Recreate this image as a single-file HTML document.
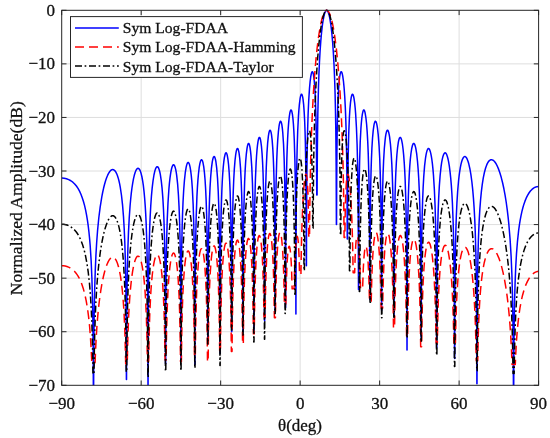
<!DOCTYPE html>
<html><head><meta charset="utf-8"><style>html,body{margin:0;padding:0;background:#fff;overflow:hidden}svg{display:block}</style></head>
<body><svg width="550" height="438" viewBox="0 0 550 438"><style>text{font-family:"Liberation Serif",serif;fill:#111;stroke:#111;stroke-width:0.3px}</style><rect x="0" y="0" width="550" height="438" fill="#fff"/><path d="M141.18 10.30V385.30M220.67 10.30V385.30M300.15 10.30V385.30M379.63 10.30V385.30M459.12 10.30V385.30M61.70 331.73H538.60M61.70 278.16H538.60M61.70 224.59H538.60M61.70 171.01H538.60M61.70 117.44H538.60M61.70 63.87H538.60" stroke="#dedede" stroke-width="1" fill="none"/><defs><clipPath id="c"><rect x="61.70" y="8.30" width="476.90" height="377.00"/></clipPath></defs><g clip-path="url(#c)" fill="none" stroke-width="1.5" stroke-linejoin="round"><polyline points="61.7,178.08 64.11,178.25 66.47,178.76 68.72,179.59 70.84,180.74 72.83,182.2 74.68,183.97 76.4,186.04 78.02,188.44 79.53,191.18 80.93,194.25 82.23,197.65 83.45,201.44 84.59,205.65 85.62,210.17 86.58,215.09 87.45,220.41 88.22,225.92 88.94,231.97 89.57,238.34 90.16,245.27 91.14,260.58 91.9,278.33 92.46,298.03 92.88,322.5 93.15,349.28 93.36,387.98 93.63,387.98 93.78,354.4 94.02,326.93 94.34,305.09 94.77,286.08 95.27,270.32 95.9,255.76 96.67,242.53 97.57,230.55 98.79,218.01 100.2,206.82 101.81,196.77 102.69,192.26 103.61,188.05 104.57,184.27 105.57,180.81 106.61,177.79 107.67,175.2 108.73,173.1 109.79,171.49 110.85,170.36 111.38,169.98 111.91,169.73 112.38,169.6 112.86,169.59 113.34,169.68 113.81,169.88 114.72,170.58 115.62,171.73 116.49,173.32 117.31,175.28 118.11,177.66 118.88,180.49 119.59,183.67 120.25,187.15 121.5,195.5 122.56,205.17 123.49,216.67 124.2,228.72 124.78,242.07 125.26,257.24 125.63,274.13 125.92,293.98 126.13,316.95 126.4,379.41 126.53,379.41 126.69,334.34 126.9,303.51 127.14,283.23 127.46,265.25 127.91,247.83 128.49,232.1 129.21,218.21 130.08,205.75 130.67,199.2 131.3,193.2 131.99,187.75 132.71,183.05 133.47,178.88 134.29,175.3 135.14,172.44 136.02,170.3 136.44,169.54 136.89,168.94 137.34,168.53 137.79,168.33 138.24,168.33 138.67,168.51 139.09,168.89 139.51,169.45 140.34,171.13 141.13,173.56 141.9,176.75 142.61,180.6 143.36,185.68 144.04,191.65 144.65,198.24 145.21,205.71 145.71,214.14 146.14,222.99 146.85,244.26 147.33,267.83 147.65,295.29 147.86,331.4 147.99,387.98 148.07,387.98 148.26,322.51 148.52,285.37 149,253.38 149.69,228.35 150.16,216.76 150.75,205.92 151.41,196.42 152.18,187.93 153.03,180.79 153.95,175 154.93,170.7 155.44,169.13 155.94,167.96 156.5,167.11 156.79,166.85 157.08,166.72 157.37,166.71 157.64,166.82 158.19,167.39 158.75,168.46 159.28,169.97 159.81,171.99 160.31,174.44 161.24,180.55 162.09,188.44 162.83,197.92 163.47,208.96 163.94,220.06 164.34,232.34 164.68,246.85 164.95,262.51 165.35,305.97 165.53,363.87 165.66,363.87 165.8,318.31 165.98,287.2 166.27,260.74 166.67,239.21 167.25,219.25 168,202.67 168.92,188.77 169.45,182.9 170.01,177.91 170.54,174.07 171.07,170.98 171.63,168.47 172.21,166.56 172.79,165.34 173.08,164.99 173.4,164.79 173.69,164.78 173.98,164.93 174.57,165.76 175.12,167.22 175.68,169.37 176.21,172.16 176.71,175.55 177.64,184.19 178.43,195.03 179.02,206.15 179.52,219.37 179.92,233.98 180.24,250.71 180.63,287.81 180.9,358.51 181,358.51 181.22,297.52 181.56,258.32 182.14,227.13 182.54,213.98 183.04,201.68 183.68,190.26 184.42,180.59 185.27,172.74 186.17,167.14 186.65,165.12 187.15,163.62 187.65,162.73 187.92,162.51 188.16,162.45 188.42,162.54 188.66,162.76 189.14,163.63 189.62,165.09 190.09,167.17 190.7,170.86 191.28,175.65 191.81,181.34 192.32,188.27 193.14,204.37 193.77,224.37 194.2,246.13 194.52,274.48 194.73,313.21 194.83,362.31 194.86,364.41 194.94,364.41 195.07,307.84 195.28,271.88 195.63,242.7 196.16,217.81 196.93,196.62 197.4,187.64 197.93,179.88 198.54,173.05 199.18,167.74 199.87,163.67 200.58,161.01 200.98,160.17 201.41,159.76 201.62,159.74 201.83,159.84 202.23,160.36 202.62,161.35 203.02,162.81 203.76,166.95 204.45,172.75 205.09,180.29 205.64,189.29 206.12,199.65 206.52,211.21 206.84,223.63 207.31,253.4 207.6,291.48 207.76,342.44 207.9,342.44 208.11,282.62 208.51,241.07 208.77,225.72 209.12,211.42 209.54,198.6 210.02,187.88 210.68,177 211.42,168.43 212.27,161.9 212.72,159.56 213.17,157.91 213.62,156.91 213.86,156.64 214.1,156.54 214.33,156.62 214.57,156.87 215.02,157.84 215.47,159.5 215.9,161.72 216.72,168.19 217.54,178.4 218.23,191.44 218.79,207.27 219.21,225.63 219.53,247.4 219.74,271.45 219.9,304.78 220,353.16 220.08,353.16 220.22,300.13 220.4,265.3 220.72,235.42 221.2,210.69 221.86,190.28 222.28,181.27 222.73,173.78 223.26,166.96 223.82,161.57 224.4,157.48 225.04,154.55 225.41,153.52 225.78,152.96 225.97,152.85 226.15,152.86 226.52,153.23 226.89,154.07 227.26,155.42 227.95,159.39 228.59,165.04 229.17,172.39 229.67,181.04 230.13,191.47 230.76,213.97 231.21,243.02 231.48,277.32 231.66,331.73 231.77,331.73 231.79,330.08 231.98,273.04 232.35,232.1 232.91,203.11 233.28,190.92 233.73,179.88 234.31,169.4 235,160.63 235.74,154.27 236.14,151.91 236.54,150.19 236.96,149.03 237.17,148.69 237.38,148.52 237.6,148.51 237.81,148.66 238.21,149.4 238.63,150.86 239.03,152.91 239.77,158.74 240.54,168.34 241.17,180.42 241.7,195.4 242.13,213.6 242.39,230.81 242.6,251.87 242.79,284.69 242.92,331.73 243.03,331.73 243.19,275.61 243.48,236.05 243.96,205.48 244.64,181.63 245.15,170.38 245.7,161.28 246.34,153.79 247.06,148.11 247.43,146.1 247.8,144.67 248.17,143.79 248.35,143.55 248.57,143.43 248.78,143.49 248.96,143.68 249.33,144.48 249.7,145.84 250.08,147.81 250.55,151.33 251,155.86 251.8,167.63 252.46,183.28 252.96,202.19 253.31,222.94 253.55,246.57 253.73,280.83 253.84,326.54 253.86,331.73 253.94,331.73 254.08,279.02 254.24,248.93 254.5,221.76 254.87,199.49 255.43,178.98 256.12,162.96 256.54,155.95 256.99,150.13 257.47,145.39 258,141.56 258.34,139.77 258.71,138.41 259.06,137.66 259.24,137.46 259.43,137.39 259.61,137.46 259.8,137.67 260.14,138.43 260.49,139.71 260.83,141.53 261.47,146.51 262.05,153.35 262.58,162.15 263.03,172.47 263.67,195.15 264.09,222.68 264.38,262.04 264.54,321.01 264.65,321.01 264.89,248.53 265.1,222.76 265.39,201.41 265.79,182.71 266.29,166.91 266.93,153.38 267.67,142.82 268.38,136.16 268.75,133.77 269.15,131.91 269.55,130.74 269.95,130.22 270.16,130.22 270.34,130.36 270.71,131.1 271.09,132.44 271.46,134.44 272.15,140.15 272.78,148.34 273.31,158.27 273.71,168.56 274.05,180.66 274.56,209.29 274.9,252.53 275.06,310.3 275.17,310.3 275.35,250.36 275.62,214.54 276.07,184.47 276.73,160.35 277.21,149.09 277.74,139.87 278.35,132.19 279.01,126.47 279.35,124.38 279.72,122.75 280.07,121.76 280.44,121.27 280.62,121.24 280.81,121.35 281.18,122.03 281.52,123.21 281.87,124.97 282.35,128.44 282.77,132.72 283.54,144.3 284.17,159.78 284.65,178.34 284.97,198.02 285.21,222.28 285.39,258.55 285.5,307.62 285.58,307.62 285.74,249.13 285.95,213.98 286.32,183.4 286.85,159.28 287.22,147.99 287.64,138.16 288.12,129.71 288.68,122.33 289.26,116.76 289.9,112.71 290.21,111.39 290.56,110.45 290.9,110.02 291.06,109.99 291.22,110.07 291.51,110.5 291.8,111.32 292.39,114.17 292.92,118.4 293.42,124.21 293.87,131.36 294.27,139.8 294.9,160.39 295.3,182.59 295.59,211.95 295.75,243.29 295.88,314.05 295.94,314.05 296.15,225.98 296.36,195.77 296.68,170.52 297.13,148.91 297.71,131.03 298.45,116.13 298.88,109.99 299.36,104.58 300.04,98.98 300.41,96.91 300.79,95.44 301.16,94.55 301.34,94.31 301.53,94.22 301.71,94.28 301.9,94.48 302.27,95.33 302.64,96.83 302.98,98.85 303.62,104.43 304.18,111.86 304.68,121.54 305.05,131.45 305.37,142.98 305.85,170.99 306.16,211.59 306.32,265.84 306.43,265.84 306.69,195.19 306.91,170.52 307.2,149.49 307.59,130.66 308.1,114.4 308.73,100.13 309.48,88.58 310.11,81.58 310.77,76.48 311.46,73.18 311.83,72.2 312.18,71.77 312.36,71.74 312.52,71.83 312.87,72.4 313.21,73.5 313.53,75.04 314.14,79.63 314.67,85.83 315.07,92.37 315.41,99.9 315.99,119.37 316.47,150.27 316.76,195.12 317.08,195.12 317.37,148.68 317.82,114.46 318.51,85.92 318.96,73.25 319.46,62.03 320.1,50.78 320.79,41.12 321.58,32.3 322.43,25 323.36,18.98 324.31,14.58 324.82,12.91 325.32,11.66 325.82,10.82 326.35,10.37 326.64,10.3 326.94,10.37 327.49,10.85 328.08,11.88 328.63,13.37 329.19,15.38 329.74,17.93 330.78,24.26 331.76,32.53 332.63,42.27 333.4,53.36 334.09,66.22 334.62,79 335.07,93.08 335.44,108.43 335.76,126.62 336.16,166.07 336.39,224.59 336.55,224.59 336.69,185.37 336.9,154.48 337.14,134.94 337.43,119.43 337.85,104.52 338.38,92.36 339.02,82.94 339.39,79.14 339.76,76.27 340.1,74.31 340.45,72.94 340.82,72.06 341,71.83 341.19,71.74 341.38,71.78 341.56,71.95 341.96,72.75 342.33,74.03 342.7,75.82 343.44,81.05 344.13,88.17 344.74,96.76 345.3,107.2 345.72,117.58 346.09,129.31 346.67,157.34 347.05,191.47 347.28,239.05 347.52,239.05 347.76,190.91 348.18,156.2 348.71,134.01 349.43,116.72 349.93,108.83 350.52,102.41 351.15,97.82 351.5,96.17 351.84,95.05 352.19,94.41 352.37,94.25 352.56,94.23 352.93,94.56 353.3,95.39 353.67,96.73 354.01,98.45 354.7,103.34 355.18,108.01 355.63,113.6 356.42,127.17 357.09,144.23 357.59,164.13 357.93,185.45 358.2,212.87 358.49,289.41 358.6,289.41 358.73,238.35 358.94,204.62 359.23,180.14 359.63,160.19 360.21,142.15 360.95,128.01 361.38,122.46 361.86,117.75 362.36,114.16 362.92,111.57 363.29,110.55 363.66,110.05 363.84,109.99 364.03,110.05 364.43,110.6 364.82,111.7 365.19,113.26 365.91,117.77 366.6,124.29 367.21,132.33 367.74,141.68 368.21,152.87 368.88,176.22 369.35,206.49 369.64,244.67 369.83,299.59 369.94,299.59 370.12,242.16 370.49,199.96 370.76,183.84 371.08,170.21 371.45,158.65 371.9,148.3 372.51,138.3 373.2,130.58 373.96,125.08 374.39,123.15 374.81,121.91 375.24,121.31 375.45,121.23 375.69,121.33 376.14,122.02 376.59,123.39 377.01,125.32 377.43,127.92 378.23,134.83 379.05,145.57 379.74,158.83 380.3,174.4 380.75,193.16 381.06,213.52 381.3,238.26 381.59,310.3 381.7,310.3 381.83,266.24 382.02,234.59 382.26,211.96 382.57,193.03 383.05,174.75 383.63,160.15 384.35,148.23 385.2,139.11 385.59,136.14 386.02,133.71 386.47,131.87 386.92,130.72 387.13,130.41 387.37,130.22 387.61,130.21 387.85,130.37 388.3,131.14 388.75,132.54 389.2,134.58 389.62,137.14 390.44,144.12 391.18,153.31 391.82,164.34 392.3,175.55 392.72,189 393.07,204.13 393.33,220.6 393.68,258.1 393.89,315.66 394.02,315.66 394.23,258.71 394.58,221.54 395.08,194.7 395.42,182.93 395.82,172.69 396.35,162.49 396.93,154.26 397.62,147.27 398.36,142.16 398.76,140.25 399.16,138.86 399.58,137.89 400.01,137.43 400.22,137.39 400.43,137.47 400.88,138.03 401.31,139.06 401.73,140.59 402.42,144.23 403.05,149 403.66,155.1 404.22,162.35 404.72,170.75 405.15,179.74 405.86,201.65 406.34,226.31 406.66,255.76 406.87,297.02 406.98,349.94 407.06,349.94 407.19,291.32 407.43,250.57 407.8,220.84 408.35,196.55 408.75,185.16 409.2,175.39 409.73,166.66 410.31,159.4 410.95,153.5 411.67,148.77 412.43,145.48 412.83,144.41 413.23,143.74 413.68,143.43 413.89,143.45 414.13,143.6 414.58,144.24 415.03,145.35 415.48,146.95 415.9,148.93 416.73,154.21 417.49,161.21 418.18,169.71 418.79,179.71 419.3,190.61 419.69,201.87 420.04,214.72 420.54,244.26 420.86,282.62 421.04,337.09 421.18,337.09 421.42,273.07 421.6,251.26 421.87,231.49 422.21,214.45 422.63,199.91 423.14,187.52 423.75,176.59 424.59,165.87 425.55,157.76 426.08,154.56 426.61,152.12 427.19,150.21 427.77,149.02 428.07,148.69 428.38,148.51 428.67,148.52 428.99,148.71 429.6,149.62 430.18,151.15 430.77,153.37 431.35,156.33 431.88,159.73 432.41,163.92 432.97,169.3 433.47,175.25 434.34,188.97 435.06,205.42 435.62,224.69 436.01,246.23 436.3,272.58 436.49,303.4 436.62,347.8 436.76,347.8 436.99,283.46 437.18,261.5 437.44,241.63 437.76,225.6 438.19,210.61 438.72,197.26 439.33,186.09 440.15,175.21 441.1,166.37 441.63,162.7 442.19,159.61 442.77,157.07 443.38,155.11 444.01,153.74 444.65,153 444.97,152.85 445.31,152.86 445.63,153.03 445.98,153.36 446.64,154.49 447.27,156.18 447.91,158.49 448.52,161.34 449.29,165.92 450.03,171.57 450.72,178.16 451.33,185.4 451.88,193.57 452.39,202.76 453.18,223.06 453.74,245.95 454.14,274.2 454.37,306.47 454.56,358.51 454.67,358.51 454.69,358.09 454.8,318.56 454.98,286.35 455.46,248.17 455.86,230.61 456.33,216 456.94,202.65 457.66,191.24 458.61,180.27 459.17,175.37 459.75,171.1 460.36,167.42 461.02,164.17 461.71,161.51 462.45,159.35 463.22,157.8 463.99,156.88 464.39,156.63 464.79,156.54 465.18,156.6 465.58,156.81 466.01,157.19 466.4,157.69 467.2,159.15 467.99,161.21 468.76,163.8 469.87,168.71 470.91,174.71 471.86,181.77 472.71,189.66 473.48,198.6 474.14,208.28 474.72,219.06 475.23,231.03 475.94,256.24 476.42,286.49 476.71,324.4 476.89,383.69 477,383.69 477.19,322.35 477.5,283.74 478.01,254.32 478.35,241.55 478.75,230.33 479.25,219.36 479.86,209.1 480.58,199.75 481.37,191.6 482.27,184.32 483.28,177.95 484.39,172.49 485.61,167.96 486.8,164.69 487.44,163.33 488.08,162.22 488.74,161.3 489.4,160.61 490.09,160.11 490.8,159.81 491.52,159.73 492.26,159.87 493,160.21 493.74,160.77 494.49,161.52 495.26,162.5 496.02,163.7 496.77,165.04 498.28,168.38 499.76,172.47 501.22,177.33 502.59,182.77 503.89,188.78 505.11,195.35 506.25,202.5 507.28,210.07 508.08,216.79 508.82,223.99 510.09,239.33 511.13,256.48 511.92,275.34 512.53,297.15 512.95,321.55 513.24,350.87 513.43,387.98 513.72,387.98 513.91,352.94 514.17,325.53 514.54,303.24 515.07,283.36 515.71,267.52 516.5,253.62 517.46,241.56 518.62,230.7 519.34,225.4 520.13,220.37 520.98,215.79 521.88,211.62 522.86,207.73 523.92,204.15 525.06,200.88 526.28,197.93 527.58,195.3 528.96,193 530.41,191.03 531.95,189.39 533.54,188.12 535.21,187.18 536.9,186.63 538.6,186.44" stroke="#0000ff"/><polyline points="61.7,265.72 63.45,265.81 65.2,266.08 66.89,266.52 68.54,267.15 70.1,267.93 71.61,268.9 73.04,270.02 74.39,271.3 75.69,272.77 76.91,274.38 78.07,276.18 79.19,278.16 80.22,280.28 81.23,282.63 82.18,285.17 83.08,287.9 84.72,293.88 86.21,300.79 87.51,308.49 88.64,317.14 89.63,326.71 90.45,337.09 91.14,348.47 91.8,362.8 95.08,362.8 95.59,349.86 96.2,337.74 96.91,326.53 97.73,316.23 98.66,306.76 99.72,297.88 100.89,289.81 102.18,282.38 103.3,277.04 104.46,272.28 105.68,268.1 106.95,264.52 108.25,261.63 109.55,259.46 110.21,258.64 110.85,258.02 111.51,257.57 112.15,257.32 112.86,257.26 113.55,257.43 114.24,257.84 114.9,258.46 115.56,259.34 116.2,260.43 116.81,261.72 117.42,263.27 118.56,266.96 119.62,271.52 120.6,276.93 121.5,283.24 122.29,290.22 122.98,297.74 123.59,306.01 124.15,315.48 124.62,325.8 125.02,336.83 125.68,363.87 127.25,363.87 127.86,337.23 128.68,315.76 129.21,305.92 129.79,297.22 130.45,289.19 131.17,282.11 131.86,276.49 132.6,271.46 133.37,267.18 134.19,263.5 135.04,260.55 135.91,258.32 136.36,257.48 136.81,256.85 137.26,256.41 137.71,256.18 138.19,256.15 138.67,256.35 139.14,256.8 139.62,257.48 140.1,258.43 140.55,259.57 141.42,262.55 142.24,266.39 143.01,271.09 143.73,276.66 144.36,282.87 144.95,289.94 145.45,297.48 146.3,314.98 146.93,335.65 147.41,361.19 148.65,361.19 149.13,334.93 149.79,313.19 150.67,295.01 151.17,287.37 151.75,280.17 152.31,274.53 152.89,269.65 153.5,265.47 154.17,261.83 154.85,258.91 155.57,256.72 156.29,255.33 156.63,254.93 157,254.71 157.4,254.69 157.8,254.92 158.19,255.38 158.56,256.05 159.33,258.16 160.05,261.12 160.74,265 161.37,269.68 161.95,275.11 162.51,281.6 163.41,296.04 164.13,313.54 164.66,333.82 165.08,360.12 166.11,360.12 166.54,333.24 167.09,311.86 167.84,293.75 168.29,285.76 168.79,278.53 169.77,268.05 170.3,263.84 170.88,260.15 171.49,257.19 172.1,255.06 172.71,253.69 173.03,253.27 173.35,253.05 173.72,253.04 174.06,253.27 174.41,253.74 174.75,254.46 175.44,256.67 176.08,259.73 176.69,263.72 177.27,268.71 177.8,274.49 178.28,281 179.07,295.91 179.68,313.33 180.13,333.33 180.53,361.73 181.38,361.73 181.75,333.69 182.22,312.17 182.89,293.33 183.71,278.11 184.61,266.94 185.08,262.57 185.61,258.68 186.17,255.55 186.73,253.27 187.31,251.73 187.6,251.27 187.92,250.99 188.24,250.95 188.56,251.16 188.87,251.61 189.19,252.31 189.8,254.39 190.41,257.54 190.97,261.5 191.47,266.14 191.95,271.69 192.4,278.26 193.11,292.52 193.7,310.17 194.12,330.19 194.46,356.91 195.31,356.9 195.63,331.05 196.11,308.27 196.72,290.07 197.51,274.62 198.33,263.98 198.78,259.66 199.26,256.02 199.76,253.05 200.29,250.8 200.82,249.38 201.09,248.96 201.35,248.74 201.67,248.73 201.96,248.96 202.28,249.49 202.57,250.23 203.15,252.49 203.71,255.72 204.24,259.92 204.72,264.84 205.59,277.68 206.25,292.67 206.78,311.09 207.18,333.21 207.5,361.73 208.13,361.73 208.16,361.44 208.45,332.91 208.85,310.49 209.41,290.97 210.12,274.84 210.92,262.99 211.34,258.35 211.82,254.19 212.32,250.84 212.82,248.41 213.35,246.77 213.62,246.29 213.88,246.02 214.18,245.97 214.44,246.16 214.73,246.62 215,247.27 215.53,249.29 216.06,252.35 216.56,256.35 217.01,261.03 217.83,273.12 218.47,287.42 218.97,304.51 219.34,323.88 219.69,352.09 220.4,352.09 220.72,324.54 221.12,303.39 221.67,284.67 222.36,269.59 223.1,258.72 223.95,250.53 224.4,247.56 224.88,245.28 225.36,243.84 225.59,243.41 225.83,243.18 226.12,243.15 226.39,243.38 226.65,243.85 226.92,244.57 227.42,246.66 227.93,249.79 228.4,253.85 228.85,258.88 229.62,271.05 230.23,285.8 230.71,303.36 231.05,323.02 231.37,351.55 232.01,351.55 232.03,351.29 232.3,324.71 232.7,301.54 233.2,283.21 233.86,267.49 234.58,256.19 235.37,247.91 235.82,244.72 236.27,242.4 236.72,240.89 236.96,240.4 237.2,240.12 237.46,240.05 237.73,240.23 237.99,240.67 238.23,241.29 238.74,243.34 239.21,246.28 239.66,250.08 240.09,254.73 240.86,266.68 241.46,281.2 241.94,298.4 242.31,319.34 242.58,344.05 243.29,344.05 243.32,343.94 243.58,319 243.98,296.75 244.49,279.01 245.15,263.79 245.81,253.59 246.58,245.73 246.98,242.92 247.4,240.72 247.82,239.28 248.04,238.83 248.27,238.53 248.51,238.45 248.75,238.6 248.99,238.96 249.23,239.56 249.68,241.32 250.13,243.99 250.55,247.44 250.98,251.96 251.69,262.71 252.27,275.84 252.75,291.79 253.12,310.63 253.41,333.87 254.26,333.87 254.58,308.89 254.98,289.27 255.51,272.25 256.17,258.21 256.81,249.05 257.52,242.09 257.89,239.57 258.29,237.58 258.69,236.28 259.11,235.6 259.35,235.54 259.56,235.68 259.98,236.51 260.41,238.1 260.81,240.35 261.57,247.09 262.24,256.18 262.79,267.32 263.27,281.03 263.64,296.46 263.99,317.26 265.1,317.26 265.5,293.13 266,274.18 266.66,258.3 267.48,245.9 267.88,241.78 268.28,238.6 268.7,236.11 269.15,234.4 269.36,233.91 269.6,233.58 269.84,233.51 270.05,233.64 270.5,234.58 270.93,236.31 271.56,240.59 272.15,246.64 272.68,254.45 273.13,263.5 273.52,274.24 273.87,286.87 274.4,317.8 275.43,317.8 275.7,299.16 276.01,283.78 276.41,270.22 276.86,259.13 277.42,249.3 278.05,241.54 278.74,236.15 279.09,234.41 279.46,233.19 279.86,232.6 280.07,232.57 280.28,232.75 280.68,233.63 281.07,235.26 281.47,237.7 281.84,240.77 282.53,248.92 283.14,259.69 283.64,272.5 284.07,288.02 284.39,304.94 285.82,304.94 286.37,281.06 287.06,263.84 287.49,257.06 287.94,251.96 288.44,248.32 288.68,247.26 288.94,246.55 289.21,246.32 289.45,246.53 289.68,247.13 289.92,248.13 290.4,251.49 290.82,256.2 291.22,262.47 291.57,269.86 292.15,288.87 294.03,288.87 294.06,288.63 294.59,268.26 295.28,252.21 295.67,246.06 296.1,241.32 296.55,238.06 296.79,237.02 297,236.49 297.21,236.34 297.39,236.52 297.79,237.99 298.16,240.86 298.51,245.13 299.06,256.69 299.54,274.41 300.94,274.41 301.26,254.14 301.63,237.19 302.11,221.16 302.67,207.23 303.33,194.9 304.04,185.26 304.79,178.52 305.18,176.17 305.55,174.78 305.85,174.26 305.98,174.2 306.11,174.25 306.38,174.74 306.61,175.65 307.09,179.05 307.52,184.42 307.94,193.12 308.28,204.28 308.55,217.48 308.81,237.44 309.53,237.44 309.79,209.43 310.11,186.84 310.54,165.64 311.09,145.17 311.78,125.82 312.58,108.17 313.53,91.07 314.59,75.57 315.81,60.95 317.16,47.76 318.59,36.54 320.1,27.21 320.9,23.22 321.69,19.81 322.48,16.95 323.31,14.56 324.13,12.71 324.98,11.36 325.82,10.55 326.25,10.36 326.67,10.3 327.09,10.38 327.52,10.59 328.37,11.42 329.21,12.8 330.06,14.73 330.88,17.15 331.7,20.11 332.53,23.65 333.32,27.65 334.86,37.11 336.31,48.45 337.69,61.73 338.94,76.43 340.02,92.04 340.98,108.76 341.83,127.17 342.51,146.12 343.07,166.02 343.52,187.93 343.84,209.94 344.1,237.44 344.87,237.41 345.11,218.69 345.4,204.49 345.77,192.98 346.22,184.23 346.65,179.12 347.15,175.67 347.42,174.71 347.68,174.26 347.81,174.2 347.97,174.27 348.26,174.77 348.66,176.19 349.06,178.4 349.85,185.2 350.6,194.6 351.28,206.57 351.87,220.1 352.37,235.64 352.77,252.2 353.14,272.8 354.68,272.8 355.18,256 355.79,244.57 356.16,240.48 356.56,237.77 356.77,236.93 356.98,236.46 357.19,236.34 357.4,236.55 357.64,237.17 357.88,238.2 358.36,241.49 358.81,246.22 359.23,252.35 359.97,268.41 360.56,288.87 362.6,288.87 363.29,269.08 363.66,261.98 364.08,255.97 364.56,251.23 365.06,248.07 365.33,247.08 365.59,246.5 365.86,246.32 366.15,246.59 366.41,247.25 366.68,248.32 367.21,251.75 367.71,256.82 368.16,263.22 368.9,279.37 369.51,301.73 371.21,301.73 371.61,284.86 372.03,271.6 372.53,260.19 373.14,250.24 373.83,242.38 374.6,236.68 375,234.75 375.42,233.38 375.82,232.7 376.03,232.56 376.24,232.59 376.67,233.12 377.09,234.3 377.51,236.15 377.91,238.55 378.65,245 379.34,253.89 379.92,264.56 380.4,276.65 380.83,291.72 381.14,307.98 381.17,308.16 382.63,308.16 383,290.31 383.45,275.21 384,262.27 384.64,251.93 385.41,243.39 385.83,240.03 386.26,237.45 386.71,235.46 387.18,234.13 387.42,233.74 387.66,233.54 387.9,233.51 388.14,233.67 388.59,234.45 389.01,235.77 389.44,237.7 389.83,240.1 390.6,246.6 391.32,255.43 392.06,268.78 392.67,285.2 393.15,304.96 393.49,327.92 393.52,327.98 394.55,327.98 394.92,304.73 395.37,286.38 395.95,270.73 396.64,258.25 397.52,247.74 397.99,243.71 398.5,240.45 399.03,237.99 399.58,236.35 399.85,235.88 400.14,235.6 400.4,235.53 400.7,235.68 401.2,236.48 401.7,237.98 402.18,240.08 402.66,242.89 403.53,250.22 404.33,260.03 405.12,274.44 405.76,291.88 406.23,312.13 406.6,337.09 407.58,337.09 407.98,311.44 408.43,292.94 409.04,276.56 409.78,263.28 410.23,257.37 410.71,252.35 411.24,247.98 411.8,244.49 412.38,241.86 412.99,240.12 413.28,239.62 413.6,239.3 413.92,239.23 414.24,239.39 414.79,240.24 415.35,241.82 415.9,244.19 416.43,247.22 416.94,250.91 417.41,255.24 418.29,265.85 419.14,281.09 419.8,299.26 420.28,319.58 420.67,346.73 421.6,346.73 422,320.12 422.47,300.17 423.11,283.06 423.93,268.55 424.44,262.11 424.97,256.71 425.55,252.04 426.16,248.31 426.82,245.38 427.51,243.39 427.85,242.78 428.2,242.4 428.54,242.25 428.91,242.34 429.23,242.63 429.52,243.06 430.11,244.41 430.69,246.44 431.27,249.19 431.83,252.57 432.36,256.57 433.31,266.13 433.81,272.8 434.29,280.55 435.06,297.56 435.64,317.33 436.12,342.98 437.34,342.98 437.82,318.1 438.37,299.49 439.11,283.27 440.04,269.79 440.6,263.86 441.21,258.67 441.84,254.41 442.53,250.88 443.25,248.22 444.01,246.36 444.39,245.8 444.78,245.43 445.18,245.29 445.58,245.39 445.92,245.65 446.27,246.09 446.96,247.47 447.62,249.48 448.28,252.19 448.92,255.52 449.5,259.27 450.61,268.77 451.22,275.65 451.75,282.98 452.68,300.45 453.37,320.49 453.9,345.12 455.38,345.12 455.88,321.68 456.6,301.38 457.53,284.62 458.06,277.63 458.67,271.1 459.36,265.16 460.1,260.08 460.89,255.82 461.74,252.39 462.64,249.79 463.09,248.85 463.57,248.09 464.04,247.57 464.55,247.26 465.02,247.2 465.53,247.36 466.01,247.73 466.48,248.31 467.41,250.04 468.34,252.61 469.24,255.95 470.09,259.95 470.91,264.74 471.68,270.2 472.36,276.08 473.08,283.45 473.74,291.81 474.32,300.89 474.83,310.61 475.28,321.55 475.65,333.06 476.26,360.66 477.72,360.66 478.35,332.36 478.78,320.2 479.28,309.17 479.86,299.24 480.55,290.05 481.32,281.95 482.19,274.64 483.2,268.03 484.29,262.47 485.48,257.8 486.11,255.81 486.78,254.05 487.47,252.53 488.15,251.29 488.87,250.28 489.61,249.51 490.38,248.98 491.2,248.7 492,248.67 492.79,248.89 493.53,249.31 494.27,249.93 495.02,250.75 495.78,251.8 497.3,254.47 498.78,257.87 500.24,262.02 501.67,266.92 503.02,272.4 504.29,278.45 505.72,286.52 507.02,295.35 508.18,304.94 509.19,315.05 510.07,325.85 510.83,337.75 511.47,350.32 512.03,364.41 515.28,364.41 515.87,351.68 516.45,341.59 517.17,331.88 517.99,323.08 518.91,315.17 519.97,307.9 521.17,301.33 522.49,295.44 524,290.05 525.64,285.39 526.52,283.31 527.45,281.36 528.4,279.6 529.41,277.97 530.44,276.53 531.53,275.24 532.64,274.12 533.8,273.17 534.97,272.42 536.16,271.84 537.38,271.45 538.6,271.25" stroke="#ff0000" stroke-dasharray="9 5"/><polyline points="61.7,224.19 63.79,224.31 65.86,224.7 67.85,225.33 69.73,226.19 71.5,227.29 73.2,228.62 74.79,230.19 76.3,232 77.7,234.04 79.03,236.32 80.27,238.84 81.46,241.68 82.58,244.77 83.61,248.11 84.59,251.78 85.49,255.67 86.98,263.53 88.27,272.48 89.39,282.52 90.34,293.93 91.27,309.36 92.01,327.71 92.54,348.04 92.96,374.05 94,374.05 94.34,350.96 94.77,332.03 95.29,315.62 95.98,300.24 96.83,286.24 97.86,273.31 99.06,261.75 100.43,251.26 101.28,245.89 102.16,241.02 103.11,236.36 104.09,232.2 105.1,228.49 106.16,225.15 107.24,222.28 108.33,219.94 109.44,218.08 110.53,216.77 111.09,216.29 111.62,215.97 112.17,215.77 112.7,215.7 113.23,215.77 113.76,215.98 114.26,216.3 114.77,216.76 115.78,218.11 116.73,219.97 117.84,222.94 118.88,226.63 119.86,231.14 120.76,236.36 121.58,242.28 122.32,248.88 122.98,256.14 123.59,264.4 124.47,280.45 125.13,298.67 125.5,313.56 125.79,330.13 126.19,371.45 126.21,371.91 126.72,371.91 127.14,329.28 127.43,312.59 127.78,298.41 128.23,284.7 128.76,272.56 129.39,261.37 130.14,251.24 131.04,241.71 132.07,233.34 133.21,226.38 133.82,223.43 134.43,220.96 135.06,218.84 135.73,217.09 136.39,215.8 137.05,214.95 137.71,214.53 138.06,214.48 138.37,214.55 139.04,215.01 139.67,215.91 140.15,216.88 140.63,218.12 141.55,221.41 142.43,225.72 143.22,230.89 143.97,237.11 144.63,244.15 145.21,251.95 145.74,260.89 146.48,278.22 147.07,299.59 147.57,333.22 147.86,377.26 148.2,377.26 148.44,339.65 148.81,309.4 149.34,285.26 150.09,264.64 150.56,255.23 151.09,246.85 151.68,239.42 152.34,232.63 153.05,226.8 153.82,221.93 154.64,218.02 155.49,215.21 156.02,214.03 156.55,213.28 157.11,212.95 157.37,212.95 157.64,213.06 158.17,213.6 158.7,214.59 159.2,215.96 159.7,217.8 160.63,222.55 161.48,228.79 162.25,236.52 162.94,245.83 163.49,255.81 163.97,267.09 164.37,279.64 164.68,293.22 165.13,324.41 165.45,371.37 165.74,371.37 165.77,370.88 166.09,321.87 166.35,301.73 166.7,284.29 167.07,270.91 167.49,259.41 168,248.93 168.58,239.57 169.35,230.27 170.22,222.57 171.18,216.76 171.68,214.58 172.18,212.95 172.69,211.84 173.22,211.21 173.48,211.1 173.75,211.13 174.01,211.3 174.27,211.61 174.78,212.59 175.28,214.12 175.76,216.11 176.24,218.69 176.77,222.34 177.27,226.7 178.17,237.38 178.91,250.3 179.52,265.85 180,284.16 180.37,306.73 180.63,334.71 180.82,370.84 181.08,370.84 181.35,324.34 181.75,292.09 182.38,265.05 182.81,253.35 183.28,243.3 183.89,233.52 184.58,225.26 185.32,218.73 186.14,213.68 186.57,211.83 187.02,210.37 187.47,209.41 187.92,208.94 188.16,208.88 188.37,208.95 188.79,209.4 189.24,210.36 189.67,211.75 190.28,214.64 190.83,218.32 191.36,222.92 191.84,228.18 192.69,241.17 193.38,257.35 193.83,273.18 194.2,292.81 194.54,324.75 194.76,368.16 195.02,368.16 195.15,337 195.36,309.58 195.66,287.42 196.03,269.27 196.53,252.68 197.17,238.34 197.93,226.4 198.81,217.18 199.58,211.76 199.97,209.75 200.4,208.14 200.82,207.05 201.25,206.46 201.46,206.35 201.67,206.36 202.09,206.76 202.52,207.67 202.92,209.01 203.68,213.08 204.4,218.92 205.06,226.65 205.56,234.58 205.99,243.24 206.7,264.89 207.02,279.96 207.29,298.25 207.63,344.05 208,344.05 208.27,307.51 208.61,280.67 209.12,257.93 209.8,238.87 210.23,230.61 210.7,223.29 211.23,216.97 211.82,211.7 212.43,207.72 213.06,204.99 213.38,204.13 213.73,203.55 214.07,203.33 214.39,203.46 214.71,203.9 215.02,204.67 215.63,207.1 216.22,210.73 216.77,215.62 217.28,221.52 217.73,228.36 218.49,245.19 219.02,263.72 219.42,286.16 219.74,319.07 219.95,365.48 220.14,365.48 220.32,323.36 220.53,296.95 220.88,272.27 221.33,252.52 221.96,234.68 222.73,220.71 223.18,214.83 223.66,209.94 224.19,205.82 224.72,202.87 225.04,201.61 225.36,200.71 225.67,200.16 226.02,199.94 226.34,200.1 226.65,200.61 226.97,201.48 227.29,202.72 227.9,206.23 228.46,210.94 228.99,217.09 229.46,224.44 230.15,239.67 230.68,258.02 231.18,288.74 231.5,330.12 231.9,330.12 232.19,291.85 232.62,262.76 233.23,239.48 233.6,229.9 234.05,220.91 234.58,212.87 235.19,206.07 235.82,201.09 236.51,197.69 236.85,196.68 237.2,196.11 237.38,195.98 237.57,195.98 237.91,196.31 238.26,197.08 238.6,198.31 239.27,202.09 240.01,208.96 240.64,217.81 241.2,228.91 241.68,242.49 242.1,260.39 242.42,281.46 242.63,304.37 242.79,334.91 243.11,334.94 243.37,293.6 243.72,265.44 244.25,241.19 244.96,221.79 245.41,213.43 245.94,205.97 246.53,199.96 247.13,195.59 247.77,192.8 248.09,192.01 248.43,191.6 248.62,191.57 248.78,191.65 249.1,192.11 249.41,192.97 249.73,194.25 250.18,196.85 250.61,200.24 251.4,209.64 252.06,221.86 252.62,237.44 253.07,257.16 253.39,279.91 253.6,305.88 253.76,341.91 254,341.91 254.18,302.07 254.47,270.69 254.9,245.85 255.45,226.23 256.25,208.9 256.7,202.17 257.2,196.43 257.73,191.99 258.32,188.69 258.61,187.61 258.9,186.87 259.19,186.49 259.35,186.42 259.51,186.45 259.8,186.78 260.06,187.38 260.59,189.5 261.1,192.76 261.57,197.14 262.02,202.7 262.42,209.07 263.11,224.95 263.59,242.28 263.96,263.69 264.25,293.38 264.46,339.23 264.67,339.23 264.86,298.14 265.1,270.07 265.44,246.79 265.92,226.94 266.58,209.53 267.4,195.98 267.85,190.87 268.36,186.62 268.89,183.53 269.42,181.73 269.71,181.24 270,181.12 270.29,181.35 270.56,181.87 271.09,183.87 271.62,187.24 272.12,191.93 272.57,197.66 273.34,212.19 273.92,230.13 274.34,251.4 274.66,279.2 274.87,313.51 275.22,313.51 275.4,281.32 275.7,253.82 276.09,231.94 276.62,213.64 277.26,199.31 278,188.35 278.42,183.95 278.87,180.45 279.33,178 279.8,176.45 280.07,176.03 280.36,175.92 280.65,176.2 280.92,176.78 281.44,178.97 281.95,182.41 282.43,187.14 282.88,193.23 283.62,208.26 284.17,226.78 284.57,248.58 284.86,276.68 285.07,313.51 285.34,313.51 285.37,312.14 285.53,279.85 285.79,251.63 286.16,228.87 286.64,210.51 287.25,195.18 287.96,183.36 288.39,178.42 288.81,174.66 289.26,171.78 289.71,169.94 289.98,169.32 290.24,169.03 290.51,169.07 290.74,169.39 291.25,171.01 291.75,174.02 292.2,178.07 292.63,183.33 293.37,197.28 293.9,213.51 294.32,234.58 294.61,259.36 294.85,294.23 295.2,294.23 295.38,262.61 295.65,237.2 296.02,215.73 296.49,198 297.05,184.07 297.74,172.44 298.51,164.17 298.9,161.37 299.33,159.36 299.57,158.66 299.81,158.25 300.04,158.14 300.26,158.3 300.49,158.78 300.71,159.48 301.16,161.91 301.58,165.52 301.95,169.97 302.61,182.08 303.12,197.2 303.51,216.65 303.78,238.23 304.02,270.66 304.39,270.66 304.63,235.66 304.89,212.54 305.26,191.94 305.77,173.47 306.35,158.84 307.01,147.23 307.78,138.19 308.18,134.98 308.58,132.69 309,131.2 309.21,130.85 309.4,130.75 309.61,130.89 309.79,131.26 310.16,132.71 310.51,135.05 310.83,138.24 311.41,147.6 311.89,160.78 312.26,178.07 312.52,199.21 312.73,228.34 313.11,228.34 313.5,176.3 313.79,155.22 314.17,136.27 314.64,118.28 315.23,101.53 315.91,86.04 316.71,71.78 317.66,58.05 318.72,45.87 319.89,35.23 321.13,26.4 321.8,22.6 322.46,19.37 323.15,16.57 323.84,14.31 324.52,12.57 325.24,11.29 325.96,10.54 326.3,10.36 326.67,10.3 327.04,10.38 327.41,10.6 328.13,11.4 328.84,12.73 329.56,14.6 330.27,17.01 330.96,19.87 331.65,23.3 332.31,27.16 333.59,36.29 334.78,47.28 335.86,59.89 336.84,74.16 337.64,88.62 338.33,104.33 338.91,121.38 339.39,139.8 339.76,159.44 340.05,181.73 340.42,235.3 340.77,235.3 341.08,191.62 341.35,174.04 341.67,160.56 342.01,150.74 342.41,142.99 342.89,136.89 343.42,132.88 343.68,131.72 343.95,131.02 344.21,130.75 344.34,130.77 344.5,130.92 344.77,131.47 345.06,132.49 345.64,135.83 346.2,140.71 346.73,147.07 347.2,154.54 347.65,163.54 348.34,182.94 348.87,206.82 349.24,235.6 349.48,270.66 349.91,270.66 350.12,240.39 350.44,215.64 350.86,196.47 351.44,180.55 352.13,169.24 352.5,165.2 352.93,161.87 353.38,159.57 353.83,158.37 354.07,158.15 354.3,158.2 354.54,158.51 354.78,159.09 355.23,160.89 355.68,163.68 356.11,167.27 356.5,171.6 357.25,182.83 357.85,196.48 358.38,214.1 358.78,234.44 359.07,258.54 359.31,291.55 359.71,291.55 359.95,258.56 360.27,233.99 360.72,213.48 361.3,197.08 362.07,183.71 362.52,178.47 362.99,174.4 363.52,171.33 364.05,169.58 364.32,169.15 364.61,169 364.88,169.16 365.17,169.66 365.67,171.31 366.15,173.85 366.6,177.19 367.05,181.57 367.84,192.52 368.51,206.21 369.09,224.45 369.51,245.29 369.83,271.33 370.04,302.26 370.47,302.26 370.7,269.25 371.05,243.32 371.53,222.39 372.16,205.22 372.56,197.73 373.01,191.17 373.49,185.87 374.02,181.55 374.57,178.45 375.16,176.55 375.45,176.08 375.74,175.91 376.06,176.07 376.35,176.52 376.9,178.2 377.46,181.04 377.99,184.92 378.47,189.55 379.34,201.69 380.08,217.7 380.61,235.21 381.04,257.16 381.33,282.39 381.57,317.8 381.91,317.8 382.15,281.48 382.47,255.48 382.92,233.94 383.53,215.96 384.3,201.63 384.75,195.73 385.22,190.88 385.73,187.01 386.28,183.98 386.87,182.01 387.16,181.45 387.45,181.16 387.77,181.14 388.11,181.47 388.43,182.1 388.75,183.04 389.36,185.77 389.97,189.83 390.52,194.87 391.05,201.14 391.53,208.35 391.95,216.44 392.64,234.92 393.15,256.47 393.49,280.93 393.78,317.26 394.21,317.26 394.58,273.64 394.84,256.69 395.19,241.45 395.9,221.12 396.32,212.9 396.83,205.35 397.46,198.26 398.18,192.65 398.95,188.8 399.35,187.56 399.74,186.78 400.14,186.43 400.35,186.43 400.56,186.54 400.99,187.14 401.39,188.14 401.78,189.59 402.18,191.5 402.95,196.66 403.82,205.37 404.59,216.52 405.23,229.62 405.76,245.22 406.15,262.22 406.47,282.73 406.9,338.16 407.21,338.16 407.4,305.48 407.66,279.74 408.04,258.34 408.51,240.77 409.1,226.36 409.78,214.6 410.61,205 411.06,201.14 411.56,197.74 411.98,195.53 412.43,193.76 412.88,192.53 413.33,191.81 413.55,191.63 413.78,191.57 414.02,191.63 414.26,191.83 414.74,192.62 415.19,193.86 415.64,195.6 416.06,197.73 416.91,203.55 417.68,211.02 418.37,220.14 418.92,229.89 419.4,240.83 419.8,252.82 420.14,266.74 420.62,297.89 420.94,341.91 421.31,341.91 421.65,295.34 421.89,278.37 422.21,262.67 422.87,241.53 423.3,232.22 423.77,224.02 424.41,215.63 425.1,208.86 425.87,203.38 426.71,199.29 427.14,197.9 427.59,196.85 428.04,196.21 428.52,195.97 428.99,196.16 429.44,196.73 429.92,197.76 430.37,199.15 431.09,202.22 431.77,206.28 432.41,211.16 433.02,217.07 433.55,223.45 434.05,230.9 434.9,248.12 435.54,268.11 435.99,290.8 436.3,318.19 436.54,355.3 436.86,355.3 436.89,353.82 437.21,307.58 437.47,288.12 437.79,272.31 438.13,259.88 438.53,249 438.98,239.45 439.51,230.69 440.2,221.97 440.99,214.49 441.87,208.53 442.82,204.07 443.33,202.43 443.86,201.17 444.39,200.36 444.92,199.98 445.18,199.95 445.45,200.01 446,200.47 446.53,201.33 447.06,202.59 447.94,205.62 448.76,209.62 449.55,214.74 450.29,220.86 450.96,227.72 451.57,235.56 452.1,244.03 452.57,253.51 453.31,274.24 453.84,298.45 454.22,328.75 454.45,366.55 454.8,366.55 455.09,322.37 455.59,288.79 456.18,267.46 456.97,249.19 457.53,240.1 458.14,232.25 458.83,225.23 459.57,219.28 460.39,214.16 461.29,209.93 462.24,206.74 462.75,205.52 463.25,204.58 463.94,203.73 464.28,203.48 464.63,203.35 464.97,203.34 465.34,203.45 466.06,204.01 466.77,205.05 467.46,206.51 468.15,208.42 468.84,210.82 469.48,213.49 470.11,216.65 471.3,224.11 472.36,232.86 473.32,243.16 474.09,253.96 474.72,265.53 475.25,278.15 475.7,292.52 476.05,307.59 476.34,325.73 476.74,370.84 477.19,370.84 477.56,327.13 477.82,310.37 478.17,295.08 478.86,274.72 479.76,257.56 480.37,249.09 481.05,241.41 481.82,234.49 482.7,228.17 483.65,222.67 484.68,217.97 485.8,214.05 486.99,210.92 488.05,208.91 489.16,207.46 489.72,206.97 490.3,206.61 490.88,206.4 491.49,206.34 492.1,206.42 492.71,206.65 493.32,207.02 493.96,207.55 495.2,209 496.47,211.06 497.75,213.67 498.99,216.79 500.21,220.41 501.4,224.53 502.54,229.06 503.65,234.11 504.69,239.44 505.67,245.18 507.26,256.31 508.63,268.51 509.8,281.77 510.78,296.42 511.58,312.52 512.19,329.77 512.64,348.1 513.06,373.51 514.15,373.51 514.17,373.06 514.54,350.38 515.05,331.1 515.71,314.31 516.56,299.56 517.32,289.7 518.23,280.68 519.26,272.56 520.45,265.16 521.19,261.33 521.99,257.74 522.84,254.4 523.71,251.38 524.66,248.51 525.67,245.89 526.73,243.51 527.84,241.36 529.04,239.42 530.28,237.72 531.58,236.28 532.9,235.11 534.28,234.18 535.71,233.5 537.14,233.1 538.6,232.96" stroke="#000000" stroke-dasharray="7 2.6 1.7 2.7"/></g><path d="M61.70 385.30v-4.8M61.70 10.30v4.8M141.18 385.30v-4.8M141.18 10.30v4.8M220.67 385.30v-4.8M220.67 10.30v4.8M300.15 385.30v-4.8M300.15 10.30v4.8M379.63 385.30v-4.8M379.63 10.30v4.8M459.12 385.30v-4.8M459.12 10.30v4.8M538.60 385.30v-4.8M538.60 10.30v4.8M61.70 385.30h4.8M538.60 385.30h-4.8M61.70 331.73h4.8M538.60 331.73h-4.8M61.70 278.16h4.8M538.60 278.16h-4.8M61.70 224.59h4.8M538.60 224.59h-4.8M61.70 171.01h4.8M538.60 171.01h-4.8M61.70 117.44h4.8M538.60 117.44h-4.8M61.70 63.87h4.8M538.60 63.87h-4.8M61.70 10.30h4.8M538.60 10.30h-4.8" stroke="#262626" stroke-width="1" fill="none"/><rect x="61.70" y="10.30" width="476.90" height="375.00" stroke="#262626" stroke-width="1" fill="none"/><g font-size="17"><text x="61.70" y="408.5" text-anchor="middle">−90</text><text x="141.18" y="408.5" text-anchor="middle">−60</text><text x="220.67" y="408.5" text-anchor="middle">−30</text><text x="300.15" y="408.5" text-anchor="middle">0</text><text x="379.63" y="408.5" text-anchor="middle">30</text><text x="459.12" y="408.5" text-anchor="middle">60</text><text x="538.60" y="408.5" text-anchor="middle">90</text><text x="55" y="390.80" text-anchor="end">−70</text><text x="55" y="337.23" text-anchor="end">−60</text><text x="55" y="283.66" text-anchor="end">−50</text><text x="55" y="230.09" text-anchor="end">−40</text><text x="55" y="176.51" text-anchor="end">−30</text><text x="55" y="122.94" text-anchor="end">−20</text><text x="55" y="69.37" text-anchor="end">−10</text><text x="55" y="15.80" text-anchor="end">0</text></g><text x="300" y="431" text-anchor="middle" font-size="17">θ(deg)</text><text transform="translate(21.6 198.2) rotate(-90)" text-anchor="middle" font-size="17.6">Normalized Amplitude(dB)</text><rect x="70.5" y="16.6" width="231.89999999999998" height="60.800000000000004" fill="#fff" stroke="#262626" stroke-width="1"/><line x1="75" y1="27.9" x2="118.8" y2="27.9" stroke="#0000ff" stroke-width="1.5"/><text x="122.8" y="33.40" font-size="15.6">Sym Log-FDAA</text><line x1="75" y1="46.9" x2="118.8" y2="46.9" stroke="#ff0000" stroke-width="1.5" stroke-dasharray="9 5"/><text x="122.8" y="52.40" font-size="15.6">Sym Log-FDAA-Hamming</text><line x1="75" y1="66.1" x2="118.8" y2="66.1" stroke="#000000" stroke-width="1.5" stroke-dasharray="7 2.6 1.7 2.7"/><text x="122.8" y="71.60" font-size="15.6">Sym Log-FDAA-Taylor</text></svg></body></html>
